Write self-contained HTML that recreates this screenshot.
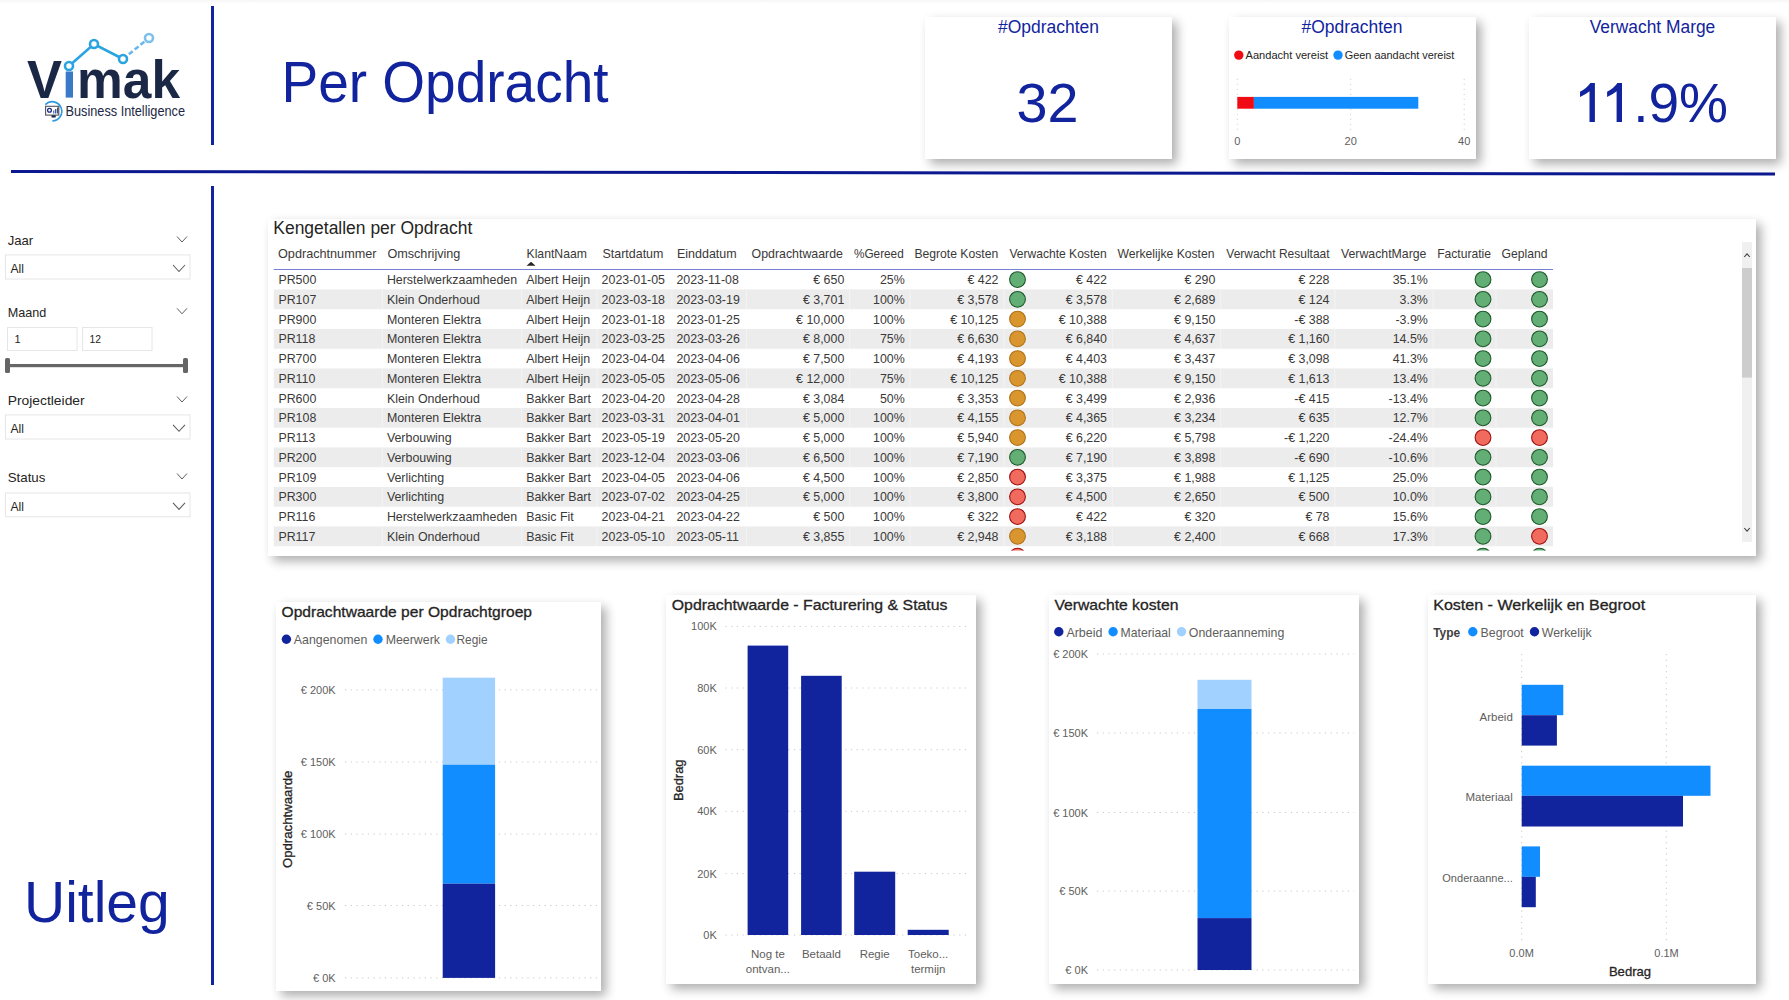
<!DOCTYPE html>
<html><head><meta charset="utf-8"><title>Per Opdracht</title>
<style>
html,body{margin:0;padding:0;background:#fff;}
body{width:1789px;height:1000px;position:relative;overflow:hidden;font-family:"Liberation Sans", sans-serif;}
.card{position:absolute;background:#fff;box-shadow:5px 5px 10px rgba(0,0,0,0.32);}
svg{position:absolute;left:0;top:0;font-family:"Liberation Sans", sans-serif;}
</style></head><body>
<div style="position:absolute;left:0;top:0;width:1789px;height:4px;background:linear-gradient(#f6f6f6,#fff)"></div>
<div class="card" style="left:925px;top:17px;width:247px;height:142px"></div><div class="card" style="left:1229px;top:17px;width:247px;height:142px"></div><div class="card" style="left:1529px;top:17px;width:247px;height:142px"></div><div class="card" style="left:268px;top:219px;width:1488px;height:337px"></div><div class="card" style="left:276px;top:602px;width:325px;height:388.5px"></div><div class="card" style="left:666px;top:595px;width:310px;height:388.5px"></div><div class="card" style="left:1049px;top:595px;width:310px;height:388.5px"></div><div class="card" style="left:1428px;top:595px;width:328px;height:388.5px"></div>
<svg width="1789" height="1000" viewBox="0 0 1789 1000">
<rect x="211" y="6" width="3" height="139" fill="#12239e" />
<rect x="211" y="186" width="3" height="799" fill="#12239e" />
<polygon points="11,170 1775,172.5 1775,175.5 11,173" fill="#0c1890"/>
<text x="281.5" y="102" font-size="57" fill="#12239e" textLength="327" lengthAdjust="spacingAndGlyphs">Per Opdracht</text>
<text x="24" y="922.2" font-size="57.5" fill="#12239e" textLength="145.7" lengthAdjust="spacingAndGlyphs">Uitleg</text>
<text x="27" y="97.6" font-size="53" fill="#1b2845" textLength="35" lengthAdjust="spacingAndGlyphs" font-weight="bold">V</text>
<rect x="65.7" y="71.5" width="7.3" height="26.1" fill="#3a78c8" />
<text x="77" y="97.6" font-size="53" fill="#1b2845" textLength="103" lengthAdjust="spacingAndGlyphs" font-weight="bold">mak</text>
<polyline points="69,66 94,44 123,59" fill="none" stroke="#2aa4e0" stroke-width="2.6"/>
<line x1="123" y1="59" x2="149" y2="38" stroke="#6ab8ec" stroke-width="2.6" stroke-dasharray="5,2.5"/>
<circle cx="69" cy="66" r="4.0" fill="#fff" stroke="#2aa4e0" stroke-width="2.6"/>
<circle cx="94" cy="44" r="4.0" fill="#fff" stroke="#2aa4e0" stroke-width="2.6"/>
<circle cx="123" cy="59" r="4.0" fill="#fff" stroke="#2aa4e0" stroke-width="2.6"/>
<circle cx="149" cy="38" r="4.0" fill="#fff" stroke="#7cc0ee" stroke-width="2.6"/>
<text x="65.5" y="115.5" font-size="14.5" fill="#1b2845" textLength="119.5" lengthAdjust="spacingAndGlyphs">Business Intelligence</text>
<path d="M 45.3 104.6 A 9.6 9.6 0 1 1 52.4 120.9" fill="none" stroke="#2d9be0" stroke-width="1.6"/>
<rect x="45.6" y="106.3" width="13.2" height="8.8" fill="none" stroke="#50545e" stroke-width="1.1"/>
<circle cx="49.5" cy="110.3" r="1.9" fill="none" stroke="#1b2a80" stroke-width="1.3"/>
<rect x="53.2" y="110.5" width="1.1" height="3" fill="#2060c0" />
<rect x="55.2" y="109" width="1.1" height="4.5" fill="#1b2a80" />
<rect x="57.2" y="107.5" width="1.1" height="6" fill="#1b2845" />
<rect x="51.5" y="115.3" width="4.2" height="2.2" fill="#1b2845" />
<text x="1048.5" y="33" font-size="17.5" fill="#12239e" text-anchor="middle" textLength="101" lengthAdjust="spacingAndGlyphs">#Opdrachten</text>
<text x="1047.5" y="122.4" font-size="56" fill="#12239e" text-anchor="middle" textLength="62" lengthAdjust="spacingAndGlyphs">32</text>
<text x="1352" y="33.2" font-size="17.5" fill="#12239e" text-anchor="middle" textLength="101" lengthAdjust="spacingAndGlyphs">#Opdrachten</text>
<text x="1652.5" y="33.2" font-size="17.5" fill="#12239e" text-anchor="middle" textLength="125.6" lengthAdjust="spacingAndGlyphs">Verwacht Marge</text>
<text x="1652" y="122" font-size="56" fill="#12239e" text-anchor="middle" textLength="152" lengthAdjust="spacingAndGlyphs"><tspan fill="transparent">11</tspan>.9%</text>
<path transform="translate(0,0)" d="M 1590.3 83.1 L 1594.9 83.1 L 1594.9 122 L 1589.5 122 L 1589.5 91.2 Q 1585.5 94.6 1580 96.9 L 1580 91.8 Q 1587 88.3 1590.3 83.1 Z" fill="#12239e"/>
<path transform="translate(27.1,0)" d="M 1590.3 83.1 L 1594.9 83.1 L 1594.9 122 L 1589.5 122 L 1589.5 91.2 Q 1585.5 94.6 1580 96.9 L 1580 91.8 Q 1587 88.3 1590.3 83.1 Z" fill="#12239e"/>
<circle cx="1238.8" cy="55.1" r="4.7" fill="#f00a14"/>
<text x="1245.6" y="58.8" font-size="11" fill="#252423" textLength="82.4" lengthAdjust="spacingAndGlyphs">Aandacht vereist</text>
<circle cx="1338" cy="55.1" r="4.7" fill="#118dff"/>
<text x="1344.8" y="58.8" font-size="11" fill="#252423" textLength="109.5" lengthAdjust="spacingAndGlyphs">Geen aandacht vereist</text>
<line x1="1237.3" y1="78.8" x2="1237.3" y2="131.6" stroke="#c8c8c8" stroke-width="1" stroke-dasharray="1,4"/>
<line x1="1350.7" y1="78.8" x2="1350.7" y2="131.6" stroke="#c8c8c8" stroke-width="1" stroke-dasharray="1,4"/>
<line x1="1464.2" y1="78.8" x2="1464.2" y2="131.6" stroke="#c8c8c8" stroke-width="1" stroke-dasharray="1,4"/>
<rect x="1237.3" y="96.9" width="16.6" height="11.8" fill="#f00a14" />
<rect x="1253.9" y="96.9" width="164.4" height="11.8" fill="#118dff" />
<text x="1237.3" y="145" font-size="11" fill="#605e5c" text-anchor="middle">0</text>
<text x="1350.7" y="145" font-size="11" fill="#605e5c" text-anchor="middle">20</text>
<text x="1464.2" y="145" font-size="11" fill="#605e5c" text-anchor="middle">40</text>
<text x="7.7" y="245" font-size="13" fill="#252423" textLength="25.5" lengthAdjust="spacingAndGlyphs">Jaar</text>
<polyline points="177,236.5 182.0,242.0 187,236.5" fill="none" stroke="#605e5c" stroke-width="1"/>
<rect x="5.5" y="254.9" width="184.5" height="24.099999999999994" fill="#fff" stroke="#e6e6e6" stroke-width="1"/>
<text x="10.4" y="273" font-size="13" fill="#252423" textLength="13.5" lengthAdjust="spacingAndGlyphs">All</text>
<polyline points="173,265 179.0,271.5 185,265" fill="none" stroke="#605e5c" stroke-width="1.1"/>
<text x="7.7" y="316.8" font-size="13" fill="#252423" textLength="38.5" lengthAdjust="spacingAndGlyphs">Maand</text>
<polyline points="177,308.3 182.0,313.8 187,308.3" fill="none" stroke="#605e5c" stroke-width="1"/>
<rect x="7.5" y="327.5" width="69.5" height="23" fill="#fff" stroke="#e6e6e6" stroke-width="1"/>
<rect x="82.5" y="327.5" width="69.5" height="23" fill="#fff" stroke="#e6e6e6" stroke-width="1"/>
<text x="14.4" y="343" font-size="11" fill="#252423">1</text>
<text x="89.6" y="343" font-size="11" fill="#252423" textLength="11.5" lengthAdjust="spacingAndGlyphs">12</text>
<rect x="7" y="364" width="179" height="3.2" fill="#666" />
<rect x="5" y="358" width="5" height="15" rx="1.5" fill="#666"/>
<rect x="183" y="358" width="5" height="15" rx="1.5" fill="#666"/>
<text x="7.7" y="405" font-size="13" fill="#252423" textLength="77" lengthAdjust="spacingAndGlyphs">Projectleider</text>
<polyline points="177,396.5 182.0,402.0 187,396.5" fill="none" stroke="#605e5c" stroke-width="1"/>
<rect x="5.5" y="414.9" width="184.5" height="24.100000000000023" fill="#fff" stroke="#e6e6e6" stroke-width="1"/>
<text x="10.4" y="432.8" font-size="13" fill="#252423" textLength="13.5" lengthAdjust="spacingAndGlyphs">All</text>
<polyline points="173,424.8 179.0,431.3 185,424.8" fill="none" stroke="#605e5c" stroke-width="1.1"/>
<text x="7.7" y="482" font-size="13" fill="#252423" textLength="37.7" lengthAdjust="spacingAndGlyphs">Status</text>
<polyline points="177,473.5 182.0,479.0 187,473.5" fill="none" stroke="#605e5c" stroke-width="1"/>
<rect x="5.5" y="493.0" width="184.5" height="23.799999999999955" fill="#fff" stroke="#e6e6e6" stroke-width="1"/>
<text x="10.4" y="510.9" font-size="13" fill="#252423" textLength="13.5" lengthAdjust="spacingAndGlyphs">All</text>
<polyline points="173,502.9 179.0,509.4 185,502.9" fill="none" stroke="#605e5c" stroke-width="1.1"/>
<text x="273.3" y="234" font-size="17.5" fill="#252423" textLength="199" lengthAdjust="spacingAndGlyphs">Kengetallen per Opdracht</text>
<text x="278" y="257.8" font-size="12.4" fill="#3a3938" textLength="98.5" lengthAdjust="spacingAndGlyphs">Opdrachtnummer</text>
<text x="387.4" y="257.8" font-size="12.4" fill="#3a3938" textLength="73" lengthAdjust="spacingAndGlyphs">Omschrijving</text>
<text x="526.5" y="257.8" font-size="12.4" fill="#3a3938" textLength="60.4" lengthAdjust="spacingAndGlyphs">KlantNaam</text>
<text x="602.5" y="257.8" font-size="12.4" fill="#3a3938" textLength="60.9" lengthAdjust="spacingAndGlyphs">Startdatum</text>
<text x="677" y="257.8" font-size="12.4" fill="#3a3938" textLength="59.7" lengthAdjust="spacingAndGlyphs">Einddatum</text>
<text x="751.6" y="257.8" font-size="12.4" fill="#3a3938" textLength="91.3" lengthAdjust="spacingAndGlyphs">Opdrachtwaarde</text>
<text x="854" y="257.8" font-size="12.4" fill="#3a3938" textLength="49.7" lengthAdjust="spacingAndGlyphs">%Gereed</text>
<text x="914.4" y="257.8" font-size="12.4" fill="#3a3938" textLength="83.8" lengthAdjust="spacingAndGlyphs">Begrote Kosten</text>
<text x="1009.4" y="257.8" font-size="12.4" fill="#3a3938" textLength="97.3" lengthAdjust="spacingAndGlyphs">Verwachte Kosten</text>
<text x="1117.4" y="257.8" font-size="12.4" fill="#3a3938" textLength="97.1" lengthAdjust="spacingAndGlyphs">Werkelijke Kosten</text>
<text x="1226.3" y="257.8" font-size="12.4" fill="#3a3938" textLength="103.3" lengthAdjust="spacingAndGlyphs">Verwacht Resultaat</text>
<text x="1341" y="257.8" font-size="12.4" fill="#3a3938" textLength="85.4" lengthAdjust="spacingAndGlyphs">VerwachtMarge</text>
<text x="1437.2" y="257.8" font-size="12.4" fill="#3a3938" textLength="53.8" lengthAdjust="spacingAndGlyphs">Facturatie</text>
<text x="1501.5" y="257.8" font-size="12.4" fill="#3a3938" textLength="46" lengthAdjust="spacingAndGlyphs">Gepland</text>
<polygon points="526.5,265.7 535.5,265.7 531,261.7" fill="#252423"/>
<defs><clipPath id="tb"><rect x="268" y="270" width="1290" height="280.5"/></clipPath></defs>
<g clip-path="url(#tb)">
<rect x="273.8" y="289.45" width="1279.2" height="19.75" fill="#ececec" />
<rect x="381.8" y="289.45" width="1" height="19.75" fill="#f4f4f4" />
<rect x="521.1" y="289.45" width="1" height="19.75" fill="#f4f4f4" />
<rect x="596.5" y="289.45" width="1" height="19.75" fill="#f4f4f4" />
<rect x="671.3" y="289.45" width="1" height="19.75" fill="#f4f4f4" />
<rect x="746.0" y="289.45" width="1" height="19.75" fill="#f4f4f4" />
<rect x="849.1" y="289.45" width="1" height="19.75" fill="#f4f4f4" />
<rect x="909.5" y="289.45" width="1" height="19.75" fill="#f4f4f4" />
<rect x="1003.3" y="289.45" width="1" height="19.75" fill="#f4f4f4" />
<rect x="1111.8" y="289.45" width="1" height="19.75" fill="#f4f4f4" />
<rect x="1220.2" y="289.45" width="1" height="19.75" fill="#f4f4f4" />
<rect x="1334.3" y="289.45" width="1" height="19.75" fill="#f4f4f4" />
<rect x="1432.6" y="289.45" width="1" height="19.75" fill="#f4f4f4" />
<rect x="1495.5" y="289.45" width="1" height="19.75" fill="#f4f4f4" />
<rect x="273.8" y="328.95" width="1279.2" height="19.75" fill="#ececec" />
<rect x="381.8" y="328.95" width="1" height="19.75" fill="#f4f4f4" />
<rect x="521.1" y="328.95" width="1" height="19.75" fill="#f4f4f4" />
<rect x="596.5" y="328.95" width="1" height="19.75" fill="#f4f4f4" />
<rect x="671.3" y="328.95" width="1" height="19.75" fill="#f4f4f4" />
<rect x="746.0" y="328.95" width="1" height="19.75" fill="#f4f4f4" />
<rect x="849.1" y="328.95" width="1" height="19.75" fill="#f4f4f4" />
<rect x="909.5" y="328.95" width="1" height="19.75" fill="#f4f4f4" />
<rect x="1003.3" y="328.95" width="1" height="19.75" fill="#f4f4f4" />
<rect x="1111.8" y="328.95" width="1" height="19.75" fill="#f4f4f4" />
<rect x="1220.2" y="328.95" width="1" height="19.75" fill="#f4f4f4" />
<rect x="1334.3" y="328.95" width="1" height="19.75" fill="#f4f4f4" />
<rect x="1432.6" y="328.95" width="1" height="19.75" fill="#f4f4f4" />
<rect x="1495.5" y="328.95" width="1" height="19.75" fill="#f4f4f4" />
<rect x="273.8" y="368.45" width="1279.2" height="19.75" fill="#ececec" />
<rect x="381.8" y="368.45" width="1" height="19.75" fill="#f4f4f4" />
<rect x="521.1" y="368.45" width="1" height="19.75" fill="#f4f4f4" />
<rect x="596.5" y="368.45" width="1" height="19.75" fill="#f4f4f4" />
<rect x="671.3" y="368.45" width="1" height="19.75" fill="#f4f4f4" />
<rect x="746.0" y="368.45" width="1" height="19.75" fill="#f4f4f4" />
<rect x="849.1" y="368.45" width="1" height="19.75" fill="#f4f4f4" />
<rect x="909.5" y="368.45" width="1" height="19.75" fill="#f4f4f4" />
<rect x="1003.3" y="368.45" width="1" height="19.75" fill="#f4f4f4" />
<rect x="1111.8" y="368.45" width="1" height="19.75" fill="#f4f4f4" />
<rect x="1220.2" y="368.45" width="1" height="19.75" fill="#f4f4f4" />
<rect x="1334.3" y="368.45" width="1" height="19.75" fill="#f4f4f4" />
<rect x="1432.6" y="368.45" width="1" height="19.75" fill="#f4f4f4" />
<rect x="1495.5" y="368.45" width="1" height="19.75" fill="#f4f4f4" />
<rect x="273.8" y="407.95" width="1279.2" height="19.75" fill="#ececec" />
<rect x="381.8" y="407.95" width="1" height="19.75" fill="#f4f4f4" />
<rect x="521.1" y="407.95" width="1" height="19.75" fill="#f4f4f4" />
<rect x="596.5" y="407.95" width="1" height="19.75" fill="#f4f4f4" />
<rect x="671.3" y="407.95" width="1" height="19.75" fill="#f4f4f4" />
<rect x="746.0" y="407.95" width="1" height="19.75" fill="#f4f4f4" />
<rect x="849.1" y="407.95" width="1" height="19.75" fill="#f4f4f4" />
<rect x="909.5" y="407.95" width="1" height="19.75" fill="#f4f4f4" />
<rect x="1003.3" y="407.95" width="1" height="19.75" fill="#f4f4f4" />
<rect x="1111.8" y="407.95" width="1" height="19.75" fill="#f4f4f4" />
<rect x="1220.2" y="407.95" width="1" height="19.75" fill="#f4f4f4" />
<rect x="1334.3" y="407.95" width="1" height="19.75" fill="#f4f4f4" />
<rect x="1432.6" y="407.95" width="1" height="19.75" fill="#f4f4f4" />
<rect x="1495.5" y="407.95" width="1" height="19.75" fill="#f4f4f4" />
<rect x="273.8" y="447.45" width="1279.2" height="19.75" fill="#ececec" />
<rect x="381.8" y="447.45" width="1" height="19.75" fill="#f4f4f4" />
<rect x="521.1" y="447.45" width="1" height="19.75" fill="#f4f4f4" />
<rect x="596.5" y="447.45" width="1" height="19.75" fill="#f4f4f4" />
<rect x="671.3" y="447.45" width="1" height="19.75" fill="#f4f4f4" />
<rect x="746.0" y="447.45" width="1" height="19.75" fill="#f4f4f4" />
<rect x="849.1" y="447.45" width="1" height="19.75" fill="#f4f4f4" />
<rect x="909.5" y="447.45" width="1" height="19.75" fill="#f4f4f4" />
<rect x="1003.3" y="447.45" width="1" height="19.75" fill="#f4f4f4" />
<rect x="1111.8" y="447.45" width="1" height="19.75" fill="#f4f4f4" />
<rect x="1220.2" y="447.45" width="1" height="19.75" fill="#f4f4f4" />
<rect x="1334.3" y="447.45" width="1" height="19.75" fill="#f4f4f4" />
<rect x="1432.6" y="447.45" width="1" height="19.75" fill="#f4f4f4" />
<rect x="1495.5" y="447.45" width="1" height="19.75" fill="#f4f4f4" />
<rect x="273.8" y="486.95" width="1279.2" height="19.75" fill="#ececec" />
<rect x="381.8" y="486.95" width="1" height="19.75" fill="#f4f4f4" />
<rect x="521.1" y="486.95" width="1" height="19.75" fill="#f4f4f4" />
<rect x="596.5" y="486.95" width="1" height="19.75" fill="#f4f4f4" />
<rect x="671.3" y="486.95" width="1" height="19.75" fill="#f4f4f4" />
<rect x="746.0" y="486.95" width="1" height="19.75" fill="#f4f4f4" />
<rect x="849.1" y="486.95" width="1" height="19.75" fill="#f4f4f4" />
<rect x="909.5" y="486.95" width="1" height="19.75" fill="#f4f4f4" />
<rect x="1003.3" y="486.95" width="1" height="19.75" fill="#f4f4f4" />
<rect x="1111.8" y="486.95" width="1" height="19.75" fill="#f4f4f4" />
<rect x="1220.2" y="486.95" width="1" height="19.75" fill="#f4f4f4" />
<rect x="1334.3" y="486.95" width="1" height="19.75" fill="#f4f4f4" />
<rect x="1432.6" y="486.95" width="1" height="19.75" fill="#f4f4f4" />
<rect x="1495.5" y="486.95" width="1" height="19.75" fill="#f4f4f4" />
<rect x="273.8" y="526.45" width="1279.2" height="19.75" fill="#ececec" />
<rect x="381.8" y="526.45" width="1" height="19.75" fill="#f4f4f4" />
<rect x="521.1" y="526.45" width="1" height="19.75" fill="#f4f4f4" />
<rect x="596.5" y="526.45" width="1" height="19.75" fill="#f4f4f4" />
<rect x="671.3" y="526.45" width="1" height="19.75" fill="#f4f4f4" />
<rect x="746.0" y="526.45" width="1" height="19.75" fill="#f4f4f4" />
<rect x="849.1" y="526.45" width="1" height="19.75" fill="#f4f4f4" />
<rect x="909.5" y="526.45" width="1" height="19.75" fill="#f4f4f4" />
<rect x="1003.3" y="526.45" width="1" height="19.75" fill="#f4f4f4" />
<rect x="1111.8" y="526.45" width="1" height="19.75" fill="#f4f4f4" />
<rect x="1220.2" y="526.45" width="1" height="19.75" fill="#f4f4f4" />
<rect x="1334.3" y="526.45" width="1" height="19.75" fill="#f4f4f4" />
<rect x="1432.6" y="526.45" width="1" height="19.75" fill="#f4f4f4" />
<rect x="1495.5" y="526.45" width="1" height="19.75" fill="#f4f4f4" />
<text x="278.40000000000003" y="284.2" font-size="12.4" fill="#3a3938">PR500</text>
<text x="386.90000000000003" y="284.2" font-size="12.4" fill="#3a3938">Herstelwerkzaamheden</text>
<text x="526.2" y="284.2" font-size="12.4" fill="#3a3938">Albert Heijn</text>
<text x="601.6" y="284.2" font-size="12.4" fill="#3a3938">2023-01-05</text>
<text x="676.4" y="284.2" font-size="12.4" fill="#3a3938">2023-11-08</text>
<text x="844.3000000000001" y="284.2" font-size="12.4" fill="#3a3938" text-anchor="end">€ 650</text>
<text x="904.7" y="284.2" font-size="12.4" fill="#3a3938" text-anchor="end">25%</text>
<text x="998.5" y="284.2" font-size="12.4" fill="#3a3938" text-anchor="end">€ 422</text>
<circle cx="1017.5" cy="279.6" r="7.9" fill="#63ae74" stroke="#1f5a2d" stroke-width="1.1"/>
<text x="1107.0" y="284.2" font-size="12.4" fill="#3a3938" text-anchor="end">€ 422</text>
<text x="1215.4" y="284.2" font-size="12.4" fill="#3a3938" text-anchor="end">€ 290</text>
<text x="1329.5" y="284.2" font-size="12.4" fill="#3a3938" text-anchor="end">€ 228</text>
<text x="1427.8" y="284.2" font-size="12.4" fill="#3a3938" text-anchor="end">35.1%</text>
<circle cx="1483" cy="279.6" r="7.9" fill="#63ae74" stroke="#1f5a2d" stroke-width="1.1"/>
<circle cx="1539.5" cy="279.6" r="7.9" fill="#63ae74" stroke="#1f5a2d" stroke-width="1.1"/>
<text x="278.40000000000003" y="303.95" font-size="12.4" fill="#3a3938">PR107</text>
<text x="386.90000000000003" y="303.95" font-size="12.4" fill="#3a3938">Klein Onderhoud</text>
<text x="526.2" y="303.95" font-size="12.4" fill="#3a3938">Albert Heijn</text>
<text x="601.6" y="303.95" font-size="12.4" fill="#3a3938">2023-03-18</text>
<text x="676.4" y="303.95" font-size="12.4" fill="#3a3938">2023-03-19</text>
<text x="844.3000000000001" y="303.95" font-size="12.4" fill="#3a3938" text-anchor="end">€ 3,701</text>
<text x="904.7" y="303.95" font-size="12.4" fill="#3a3938" text-anchor="end">100%</text>
<text x="998.5" y="303.95" font-size="12.4" fill="#3a3938" text-anchor="end">€ 3,578</text>
<circle cx="1017.5" cy="299.35" r="7.9" fill="#63ae74" stroke="#1f5a2d" stroke-width="1.1"/>
<text x="1107.0" y="303.95" font-size="12.4" fill="#3a3938" text-anchor="end">€ 3,578</text>
<text x="1215.4" y="303.95" font-size="12.4" fill="#3a3938" text-anchor="end">€ 2,689</text>
<text x="1329.5" y="303.95" font-size="12.4" fill="#3a3938" text-anchor="end">€ 124</text>
<text x="1427.8" y="303.95" font-size="12.4" fill="#3a3938" text-anchor="end">3.3%</text>
<circle cx="1483" cy="299.35" r="7.9" fill="#63ae74" stroke="#1f5a2d" stroke-width="1.1"/>
<circle cx="1539.5" cy="299.35" r="7.9" fill="#63ae74" stroke="#1f5a2d" stroke-width="1.1"/>
<text x="278.40000000000003" y="323.7" font-size="12.4" fill="#3a3938">PR900</text>
<text x="386.90000000000003" y="323.7" font-size="12.4" fill="#3a3938">Monteren Elektra</text>
<text x="526.2" y="323.7" font-size="12.4" fill="#3a3938">Albert Heijn</text>
<text x="601.6" y="323.7" font-size="12.4" fill="#3a3938">2023-01-18</text>
<text x="676.4" y="323.7" font-size="12.4" fill="#3a3938">2023-01-25</text>
<text x="844.3000000000001" y="323.7" font-size="12.4" fill="#3a3938" text-anchor="end">€ 10,000</text>
<text x="904.7" y="323.7" font-size="12.4" fill="#3a3938" text-anchor="end">100%</text>
<text x="998.5" y="323.7" font-size="12.4" fill="#3a3938" text-anchor="end">€ 10,125</text>
<circle cx="1017.5" cy="319.1" r="7.9" fill="#d9962e" stroke="#b0731a" stroke-width="1.1"/>
<text x="1107.0" y="323.7" font-size="12.4" fill="#3a3938" text-anchor="end">€ 10,388</text>
<text x="1215.4" y="323.7" font-size="12.4" fill="#3a3938" text-anchor="end">€ 9,150</text>
<text x="1329.5" y="323.7" font-size="12.4" fill="#3a3938" text-anchor="end">-€ 388</text>
<text x="1427.8" y="323.7" font-size="12.4" fill="#3a3938" text-anchor="end">-3.9%</text>
<circle cx="1483" cy="319.1" r="7.9" fill="#63ae74" stroke="#1f5a2d" stroke-width="1.1"/>
<circle cx="1539.5" cy="319.1" r="7.9" fill="#63ae74" stroke="#1f5a2d" stroke-width="1.1"/>
<text x="278.40000000000003" y="343.45" font-size="12.4" fill="#3a3938">PR118</text>
<text x="386.90000000000003" y="343.45" font-size="12.4" fill="#3a3938">Monteren Elektra</text>
<text x="526.2" y="343.45" font-size="12.4" fill="#3a3938">Albert Heijn</text>
<text x="601.6" y="343.45" font-size="12.4" fill="#3a3938">2023-03-25</text>
<text x="676.4" y="343.45" font-size="12.4" fill="#3a3938">2023-03-26</text>
<text x="844.3000000000001" y="343.45" font-size="12.4" fill="#3a3938" text-anchor="end">€ 8,000</text>
<text x="904.7" y="343.45" font-size="12.4" fill="#3a3938" text-anchor="end">75%</text>
<text x="998.5" y="343.45" font-size="12.4" fill="#3a3938" text-anchor="end">€ 6,630</text>
<circle cx="1017.5" cy="338.85" r="7.9" fill="#d9962e" stroke="#b0731a" stroke-width="1.1"/>
<text x="1107.0" y="343.45" font-size="12.4" fill="#3a3938" text-anchor="end">€ 6,840</text>
<text x="1215.4" y="343.45" font-size="12.4" fill="#3a3938" text-anchor="end">€ 4,637</text>
<text x="1329.5" y="343.45" font-size="12.4" fill="#3a3938" text-anchor="end">€ 1,160</text>
<text x="1427.8" y="343.45" font-size="12.4" fill="#3a3938" text-anchor="end">14.5%</text>
<circle cx="1483" cy="338.85" r="7.9" fill="#63ae74" stroke="#1f5a2d" stroke-width="1.1"/>
<circle cx="1539.5" cy="338.85" r="7.9" fill="#63ae74" stroke="#1f5a2d" stroke-width="1.1"/>
<text x="278.40000000000003" y="363.2" font-size="12.4" fill="#3a3938">PR700</text>
<text x="386.90000000000003" y="363.2" font-size="12.4" fill="#3a3938">Monteren Elektra</text>
<text x="526.2" y="363.2" font-size="12.4" fill="#3a3938">Albert Heijn</text>
<text x="601.6" y="363.2" font-size="12.4" fill="#3a3938">2023-04-04</text>
<text x="676.4" y="363.2" font-size="12.4" fill="#3a3938">2023-04-06</text>
<text x="844.3000000000001" y="363.2" font-size="12.4" fill="#3a3938" text-anchor="end">€ 7,500</text>
<text x="904.7" y="363.2" font-size="12.4" fill="#3a3938" text-anchor="end">100%</text>
<text x="998.5" y="363.2" font-size="12.4" fill="#3a3938" text-anchor="end">€ 4,193</text>
<circle cx="1017.5" cy="358.6" r="7.9" fill="#d9962e" stroke="#b0731a" stroke-width="1.1"/>
<text x="1107.0" y="363.2" font-size="12.4" fill="#3a3938" text-anchor="end">€ 4,403</text>
<text x="1215.4" y="363.2" font-size="12.4" fill="#3a3938" text-anchor="end">€ 3,437</text>
<text x="1329.5" y="363.2" font-size="12.4" fill="#3a3938" text-anchor="end">€ 3,098</text>
<text x="1427.8" y="363.2" font-size="12.4" fill="#3a3938" text-anchor="end">41.3%</text>
<circle cx="1483" cy="358.6" r="7.9" fill="#63ae74" stroke="#1f5a2d" stroke-width="1.1"/>
<circle cx="1539.5" cy="358.6" r="7.9" fill="#63ae74" stroke="#1f5a2d" stroke-width="1.1"/>
<text x="278.40000000000003" y="382.95" font-size="12.4" fill="#3a3938">PR110</text>
<text x="386.90000000000003" y="382.95" font-size="12.4" fill="#3a3938">Monteren Elektra</text>
<text x="526.2" y="382.95" font-size="12.4" fill="#3a3938">Albert Heijn</text>
<text x="601.6" y="382.95" font-size="12.4" fill="#3a3938">2023-05-05</text>
<text x="676.4" y="382.95" font-size="12.4" fill="#3a3938">2023-05-06</text>
<text x="844.3000000000001" y="382.95" font-size="12.4" fill="#3a3938" text-anchor="end">€ 12,000</text>
<text x="904.7" y="382.95" font-size="12.4" fill="#3a3938" text-anchor="end">75%</text>
<text x="998.5" y="382.95" font-size="12.4" fill="#3a3938" text-anchor="end">€ 10,125</text>
<circle cx="1017.5" cy="378.35" r="7.9" fill="#d9962e" stroke="#b0731a" stroke-width="1.1"/>
<text x="1107.0" y="382.95" font-size="12.4" fill="#3a3938" text-anchor="end">€ 10,388</text>
<text x="1215.4" y="382.95" font-size="12.4" fill="#3a3938" text-anchor="end">€ 9,150</text>
<text x="1329.5" y="382.95" font-size="12.4" fill="#3a3938" text-anchor="end">€ 1,613</text>
<text x="1427.8" y="382.95" font-size="12.4" fill="#3a3938" text-anchor="end">13.4%</text>
<circle cx="1483" cy="378.35" r="7.9" fill="#63ae74" stroke="#1f5a2d" stroke-width="1.1"/>
<circle cx="1539.5" cy="378.35" r="7.9" fill="#63ae74" stroke="#1f5a2d" stroke-width="1.1"/>
<text x="278.40000000000003" y="402.7" font-size="12.4" fill="#3a3938">PR600</text>
<text x="386.90000000000003" y="402.7" font-size="12.4" fill="#3a3938">Klein Onderhoud</text>
<text x="526.2" y="402.7" font-size="12.4" fill="#3a3938">Bakker Bart</text>
<text x="601.6" y="402.7" font-size="12.4" fill="#3a3938">2023-04-20</text>
<text x="676.4" y="402.7" font-size="12.4" fill="#3a3938">2023-04-28</text>
<text x="844.3000000000001" y="402.7" font-size="12.4" fill="#3a3938" text-anchor="end">€ 3,084</text>
<text x="904.7" y="402.7" font-size="12.4" fill="#3a3938" text-anchor="end">50%</text>
<text x="998.5" y="402.7" font-size="12.4" fill="#3a3938" text-anchor="end">€ 3,353</text>
<circle cx="1017.5" cy="398.1" r="7.9" fill="#d9962e" stroke="#b0731a" stroke-width="1.1"/>
<text x="1107.0" y="402.7" font-size="12.4" fill="#3a3938" text-anchor="end">€ 3,499</text>
<text x="1215.4" y="402.7" font-size="12.4" fill="#3a3938" text-anchor="end">€ 2,936</text>
<text x="1329.5" y="402.7" font-size="12.4" fill="#3a3938" text-anchor="end">-€ 415</text>
<text x="1427.8" y="402.7" font-size="12.4" fill="#3a3938" text-anchor="end">-13.4%</text>
<circle cx="1483" cy="398.1" r="7.9" fill="#63ae74" stroke="#1f5a2d" stroke-width="1.1"/>
<circle cx="1539.5" cy="398.1" r="7.9" fill="#63ae74" stroke="#1f5a2d" stroke-width="1.1"/>
<text x="278.40000000000003" y="422.45" font-size="12.4" fill="#3a3938">PR108</text>
<text x="386.90000000000003" y="422.45" font-size="12.4" fill="#3a3938">Monteren Elektra</text>
<text x="526.2" y="422.45" font-size="12.4" fill="#3a3938">Bakker Bart</text>
<text x="601.6" y="422.45" font-size="12.4" fill="#3a3938">2023-03-31</text>
<text x="676.4" y="422.45" font-size="12.4" fill="#3a3938">2023-04-01</text>
<text x="844.3000000000001" y="422.45" font-size="12.4" fill="#3a3938" text-anchor="end">€ 5,000</text>
<text x="904.7" y="422.45" font-size="12.4" fill="#3a3938" text-anchor="end">100%</text>
<text x="998.5" y="422.45" font-size="12.4" fill="#3a3938" text-anchor="end">€ 4,155</text>
<circle cx="1017.5" cy="417.85" r="7.9" fill="#d9962e" stroke="#b0731a" stroke-width="1.1"/>
<text x="1107.0" y="422.45" font-size="12.4" fill="#3a3938" text-anchor="end">€ 4,365</text>
<text x="1215.4" y="422.45" font-size="12.4" fill="#3a3938" text-anchor="end">€ 3,234</text>
<text x="1329.5" y="422.45" font-size="12.4" fill="#3a3938" text-anchor="end">€ 635</text>
<text x="1427.8" y="422.45" font-size="12.4" fill="#3a3938" text-anchor="end">12.7%</text>
<circle cx="1483" cy="417.85" r="7.9" fill="#63ae74" stroke="#1f5a2d" stroke-width="1.1"/>
<circle cx="1539.5" cy="417.85" r="7.9" fill="#63ae74" stroke="#1f5a2d" stroke-width="1.1"/>
<text x="278.40000000000003" y="442.2" font-size="12.4" fill="#3a3938">PR113</text>
<text x="386.90000000000003" y="442.2" font-size="12.4" fill="#3a3938">Verbouwing</text>
<text x="526.2" y="442.2" font-size="12.4" fill="#3a3938">Bakker Bart</text>
<text x="601.6" y="442.2" font-size="12.4" fill="#3a3938">2023-05-19</text>
<text x="676.4" y="442.2" font-size="12.4" fill="#3a3938">2023-05-20</text>
<text x="844.3000000000001" y="442.2" font-size="12.4" fill="#3a3938" text-anchor="end">€ 5,000</text>
<text x="904.7" y="442.2" font-size="12.4" fill="#3a3938" text-anchor="end">100%</text>
<text x="998.5" y="442.2" font-size="12.4" fill="#3a3938" text-anchor="end">€ 5,940</text>
<circle cx="1017.5" cy="437.6" r="7.9" fill="#d9962e" stroke="#b0731a" stroke-width="1.1"/>
<text x="1107.0" y="442.2" font-size="12.4" fill="#3a3938" text-anchor="end">€ 6,220</text>
<text x="1215.4" y="442.2" font-size="12.4" fill="#3a3938" text-anchor="end">€ 5,798</text>
<text x="1329.5" y="442.2" font-size="12.4" fill="#3a3938" text-anchor="end">-€ 1,220</text>
<text x="1427.8" y="442.2" font-size="12.4" fill="#3a3938" text-anchor="end">-24.4%</text>
<circle cx="1483" cy="437.6" r="7.9" fill="#f06a5e" stroke="#a01212" stroke-width="1.1"/>
<circle cx="1539.5" cy="437.6" r="7.9" fill="#f06a5e" stroke="#a01212" stroke-width="1.1"/>
<text x="278.40000000000003" y="461.95" font-size="12.4" fill="#3a3938">PR200</text>
<text x="386.90000000000003" y="461.95" font-size="12.4" fill="#3a3938">Verbouwing</text>
<text x="526.2" y="461.95" font-size="12.4" fill="#3a3938">Bakker Bart</text>
<text x="601.6" y="461.95" font-size="12.4" fill="#3a3938">2023-12-04</text>
<text x="676.4" y="461.95" font-size="12.4" fill="#3a3938">2023-03-06</text>
<text x="844.3000000000001" y="461.95" font-size="12.4" fill="#3a3938" text-anchor="end">€ 6,500</text>
<text x="904.7" y="461.95" font-size="12.4" fill="#3a3938" text-anchor="end">100%</text>
<text x="998.5" y="461.95" font-size="12.4" fill="#3a3938" text-anchor="end">€ 7,190</text>
<circle cx="1017.5" cy="457.35" r="7.9" fill="#63ae74" stroke="#1f5a2d" stroke-width="1.1"/>
<text x="1107.0" y="461.95" font-size="12.4" fill="#3a3938" text-anchor="end">€ 7,190</text>
<text x="1215.4" y="461.95" font-size="12.4" fill="#3a3938" text-anchor="end">€ 3,898</text>
<text x="1329.5" y="461.95" font-size="12.4" fill="#3a3938" text-anchor="end">-€ 690</text>
<text x="1427.8" y="461.95" font-size="12.4" fill="#3a3938" text-anchor="end">-10.6%</text>
<circle cx="1483" cy="457.35" r="7.9" fill="#63ae74" stroke="#1f5a2d" stroke-width="1.1"/>
<circle cx="1539.5" cy="457.35" r="7.9" fill="#63ae74" stroke="#1f5a2d" stroke-width="1.1"/>
<text x="278.40000000000003" y="481.7" font-size="12.4" fill="#3a3938">PR109</text>
<text x="386.90000000000003" y="481.7" font-size="12.4" fill="#3a3938">Verlichting</text>
<text x="526.2" y="481.7" font-size="12.4" fill="#3a3938">Bakker Bart</text>
<text x="601.6" y="481.7" font-size="12.4" fill="#3a3938">2023-04-05</text>
<text x="676.4" y="481.7" font-size="12.4" fill="#3a3938">2023-04-06</text>
<text x="844.3000000000001" y="481.7" font-size="12.4" fill="#3a3938" text-anchor="end">€ 4,500</text>
<text x="904.7" y="481.7" font-size="12.4" fill="#3a3938" text-anchor="end">100%</text>
<text x="998.5" y="481.7" font-size="12.4" fill="#3a3938" text-anchor="end">€ 2,850</text>
<circle cx="1017.5" cy="477.1" r="7.9" fill="#f06a5e" stroke="#a01212" stroke-width="1.1"/>
<text x="1107.0" y="481.7" font-size="12.4" fill="#3a3938" text-anchor="end">€ 3,375</text>
<text x="1215.4" y="481.7" font-size="12.4" fill="#3a3938" text-anchor="end">€ 1,988</text>
<text x="1329.5" y="481.7" font-size="12.4" fill="#3a3938" text-anchor="end">€ 1,125</text>
<text x="1427.8" y="481.7" font-size="12.4" fill="#3a3938" text-anchor="end">25.0%</text>
<circle cx="1483" cy="477.1" r="7.9" fill="#63ae74" stroke="#1f5a2d" stroke-width="1.1"/>
<circle cx="1539.5" cy="477.1" r="7.9" fill="#63ae74" stroke="#1f5a2d" stroke-width="1.1"/>
<text x="278.40000000000003" y="501.45" font-size="12.4" fill="#3a3938">PR300</text>
<text x="386.90000000000003" y="501.45" font-size="12.4" fill="#3a3938">Verlichting</text>
<text x="526.2" y="501.45" font-size="12.4" fill="#3a3938">Bakker Bart</text>
<text x="601.6" y="501.45" font-size="12.4" fill="#3a3938">2023-07-02</text>
<text x="676.4" y="501.45" font-size="12.4" fill="#3a3938">2023-04-25</text>
<text x="844.3000000000001" y="501.45" font-size="12.4" fill="#3a3938" text-anchor="end">€ 5,000</text>
<text x="904.7" y="501.45" font-size="12.4" fill="#3a3938" text-anchor="end">100%</text>
<text x="998.5" y="501.45" font-size="12.4" fill="#3a3938" text-anchor="end">€ 3,800</text>
<circle cx="1017.5" cy="496.85" r="7.9" fill="#f06a5e" stroke="#a01212" stroke-width="1.1"/>
<text x="1107.0" y="501.45" font-size="12.4" fill="#3a3938" text-anchor="end">€ 4,500</text>
<text x="1215.4" y="501.45" font-size="12.4" fill="#3a3938" text-anchor="end">€ 2,650</text>
<text x="1329.5" y="501.45" font-size="12.4" fill="#3a3938" text-anchor="end">€ 500</text>
<text x="1427.8" y="501.45" font-size="12.4" fill="#3a3938" text-anchor="end">10.0%</text>
<circle cx="1483" cy="496.85" r="7.9" fill="#63ae74" stroke="#1f5a2d" stroke-width="1.1"/>
<circle cx="1539.5" cy="496.85" r="7.9" fill="#63ae74" stroke="#1f5a2d" stroke-width="1.1"/>
<text x="278.40000000000003" y="521.2" font-size="12.4" fill="#3a3938">PR116</text>
<text x="386.90000000000003" y="521.2" font-size="12.4" fill="#3a3938">Herstelwerkzaamheden</text>
<text x="526.2" y="521.2" font-size="12.4" fill="#3a3938">Basic Fit</text>
<text x="601.6" y="521.2" font-size="12.4" fill="#3a3938">2023-04-21</text>
<text x="676.4" y="521.2" font-size="12.4" fill="#3a3938">2023-04-22</text>
<text x="844.3000000000001" y="521.2" font-size="12.4" fill="#3a3938" text-anchor="end">€ 500</text>
<text x="904.7" y="521.2" font-size="12.4" fill="#3a3938" text-anchor="end">100%</text>
<text x="998.5" y="521.2" font-size="12.4" fill="#3a3938" text-anchor="end">€ 322</text>
<circle cx="1017.5" cy="516.6" r="7.9" fill="#f06a5e" stroke="#a01212" stroke-width="1.1"/>
<text x="1107.0" y="521.2" font-size="12.4" fill="#3a3938" text-anchor="end">€ 422</text>
<text x="1215.4" y="521.2" font-size="12.4" fill="#3a3938" text-anchor="end">€ 320</text>
<text x="1329.5" y="521.2" font-size="12.4" fill="#3a3938" text-anchor="end">€ 78</text>
<text x="1427.8" y="521.2" font-size="12.4" fill="#3a3938" text-anchor="end">15.6%</text>
<circle cx="1483" cy="516.6" r="7.9" fill="#63ae74" stroke="#1f5a2d" stroke-width="1.1"/>
<circle cx="1539.5" cy="516.6" r="7.9" fill="#63ae74" stroke="#1f5a2d" stroke-width="1.1"/>
<text x="278.40000000000003" y="540.95" font-size="12.4" fill="#3a3938">PR117</text>
<text x="386.90000000000003" y="540.95" font-size="12.4" fill="#3a3938">Klein Onderhoud</text>
<text x="526.2" y="540.95" font-size="12.4" fill="#3a3938">Basic Fit</text>
<text x="601.6" y="540.95" font-size="12.4" fill="#3a3938">2023-05-10</text>
<text x="676.4" y="540.95" font-size="12.4" fill="#3a3938">2023-05-11</text>
<text x="844.3000000000001" y="540.95" font-size="12.4" fill="#3a3938" text-anchor="end">€ 3,855</text>
<text x="904.7" y="540.95" font-size="12.4" fill="#3a3938" text-anchor="end">100%</text>
<text x="998.5" y="540.95" font-size="12.4" fill="#3a3938" text-anchor="end">€ 2,948</text>
<circle cx="1017.5" cy="536.35" r="7.9" fill="#d9962e" stroke="#b0731a" stroke-width="1.1"/>
<text x="1107.0" y="540.95" font-size="12.4" fill="#3a3938" text-anchor="end">€ 3,188</text>
<text x="1215.4" y="540.95" font-size="12.4" fill="#3a3938" text-anchor="end">€ 2,400</text>
<text x="1329.5" y="540.95" font-size="12.4" fill="#3a3938" text-anchor="end">€ 668</text>
<text x="1427.8" y="540.95" font-size="12.4" fill="#3a3938" text-anchor="end">17.3%</text>
<circle cx="1483" cy="536.35" r="7.9" fill="#63ae74" stroke="#1f5a2d" stroke-width="1.1"/>
<circle cx="1539.5" cy="536.35" r="7.9" fill="#f06a5e" stroke="#a01212" stroke-width="1.1"/>
<circle cx="1017.5" cy="556.1" r="7.9" fill="#f06a5e" stroke="#a01212" stroke-width="1.1"/>
<circle cx="1483" cy="556.1" r="7.9" fill="#63ae74" stroke="#1f5a2d" stroke-width="1.1"/>
<circle cx="1539.5" cy="556.1" r="7.9" fill="#63ae74" stroke="#1f5a2d" stroke-width="1.1"/>
</g>
<line x1="273.8" y1="269.5" x2="1553" y2="269.5" stroke="#7681d4" stroke-width="1.2" />
<rect x="1742" y="242" width="10" height="300" fill="#f0f0f0" />
<rect x="1742" y="268" width="10" height="109.6" fill="#cdcdcd" />
<polyline points="1744.3,257 1747.05,253.8 1749.8,257" fill="none" stroke="#444" stroke-width="1.1"/>
<polyline points="1744.3,528 1747.05,531.2 1749.8,528" fill="none" stroke="#444" stroke-width="1.1"/>
<text x="281.5" y="616.7" font-size="15" fill="#252423" textLength="250.5" lengthAdjust="spacingAndGlyphs" stroke="#252423" stroke-width="0.3">Opdrachtwaarde per Opdrachtgroep</text>
<circle cx="286.4" cy="639.3" r="4.7" fill="#12239e"/>
<text x="293.8" y="643.9" font-size="12.2" fill="#605e5c" textLength="73.5" lengthAdjust="spacingAndGlyphs">Aangenomen</text>
<circle cx="378" cy="639.3" r="4.7" fill="#118dff"/>
<text x="385.7" y="643.9" font-size="12.2" fill="#605e5c" textLength="54.3" lengthAdjust="spacingAndGlyphs">Meerwerk</text>
<circle cx="450.5" cy="639.3" r="4.7" fill="#a0d1ff"/>
<text x="456.5" y="643.9" font-size="12.2" fill="#605e5c" textLength="31" lengthAdjust="spacingAndGlyphs">Regie</text>
<line x1="345" y1="689.9" x2="597" y2="689.9" stroke="#c8c8c8" stroke-width="1" stroke-dasharray="1.2,4.5"/>
<text x="335.6" y="693.9" font-size="11" fill="#605e5c" text-anchor="end">€ 200K</text>
<line x1="345" y1="762" x2="597" y2="762" stroke="#c8c8c8" stroke-width="1" stroke-dasharray="1.2,4.5"/>
<text x="335.6" y="766" font-size="11" fill="#605e5c" text-anchor="end">€ 150K</text>
<line x1="345" y1="834.1" x2="597" y2="834.1" stroke="#c8c8c8" stroke-width="1" stroke-dasharray="1.2,4.5"/>
<text x="335.6" y="838.1" font-size="11" fill="#605e5c" text-anchor="end">€ 100K</text>
<line x1="345" y1="905.5" x2="597" y2="905.5" stroke="#c8c8c8" stroke-width="1" stroke-dasharray="1.2,4.5"/>
<text x="335.6" y="909.5" font-size="11" fill="#605e5c" text-anchor="end">€ 50K</text>
<line x1="345" y1="977.9" x2="597" y2="977.9" stroke="#c8c8c8" stroke-width="1" stroke-dasharray="1.2,4.5"/>
<text x="335.6" y="981.9" font-size="11" fill="#605e5c" text-anchor="end">€ 0K</text>
<rect x="442.7" y="677.7" width="52.4" height="87" fill="#a0d1ff" />
<rect x="442.7" y="764.7" width="52.4" height="119" fill="#118dff" />
<rect x="442.7" y="883.7" width="52.4" height="94.2" fill="#12239e" />
<text x="0" y="0" font-size="13" fill="#252423" text-anchor="middle" textLength="97.5" lengthAdjust="spacingAndGlyphs" transform="translate(292,819.3) rotate(-90)" stroke="#252423" stroke-width="0.3">Opdrachtwaarde</text>
<text x="671.8" y="609.8" font-size="15" fill="#252423" textLength="275.7" lengthAdjust="spacingAndGlyphs" stroke="#252423" stroke-width="0.3">Opdrachtwaarde - Facturering &amp; Status</text>
<line x1="725.5" y1="626.4" x2="970" y2="626.4" stroke="#c8c8c8" stroke-width="1" stroke-dasharray="1.2,4.5"/>
<text x="716.8" y="630.4" font-size="11" fill="#605e5c" text-anchor="end">100K</text>
<line x1="725.5" y1="688" x2="970" y2="688" stroke="#c8c8c8" stroke-width="1" stroke-dasharray="1.2,4.5"/>
<text x="716.8" y="692" font-size="11" fill="#605e5c" text-anchor="end">80K</text>
<line x1="725.5" y1="749.7" x2="970" y2="749.7" stroke="#c8c8c8" stroke-width="1" stroke-dasharray="1.2,4.5"/>
<text x="716.8" y="753.7" font-size="11" fill="#605e5c" text-anchor="end">60K</text>
<line x1="725.5" y1="811.3" x2="970" y2="811.3" stroke="#c8c8c8" stroke-width="1" stroke-dasharray="1.2,4.5"/>
<text x="716.8" y="815.3" font-size="11" fill="#605e5c" text-anchor="end">40K</text>
<line x1="725.5" y1="873.6" x2="970" y2="873.6" stroke="#c8c8c8" stroke-width="1" stroke-dasharray="1.2,4.5"/>
<text x="716.8" y="877.6" font-size="11" fill="#605e5c" text-anchor="end">20K</text>
<line x1="725.5" y1="935" x2="970" y2="935" stroke="#c8c8c8" stroke-width="1" stroke-dasharray="1.2,4.5"/>
<text x="716.8" y="939" font-size="11" fill="#605e5c" text-anchor="end">0K</text>
<rect x="747.6" y="645.6" width="40.60000000000002" height="289.4" fill="#12239e" />
<rect x="801.1" y="675.8" width="40.60000000000002" height="259.20000000000005" fill="#12239e" />
<rect x="854.2" y="871.7" width="41.0" height="63.299999999999955" fill="#12239e" />
<rect x="907.7" y="929.8" width="41.0" height="5.2000000000000455" fill="#12239e" />
<text x="767.9" y="958" font-size="11.5" fill="#605e5c" text-anchor="middle">Nog te</text>
<text x="767.9" y="972.8" font-size="11.5" fill="#605e5c" text-anchor="middle">ontvan...</text>
<text x="821.4" y="958" font-size="11.5" fill="#605e5c" text-anchor="middle">Betaald</text>
<text x="874.7" y="958" font-size="11.5" fill="#605e5c" text-anchor="middle">Regie</text>
<text x="928.2" y="958" font-size="11.5" fill="#605e5c" text-anchor="middle">Toeko...</text>
<text x="928.2" y="972.8" font-size="11.5" fill="#605e5c" text-anchor="middle">termijn</text>
<text x="0" y="0" font-size="13" fill="#252423" text-anchor="middle" textLength="41.5" lengthAdjust="spacingAndGlyphs" transform="translate(683,780.3) rotate(-90)" stroke="#252423" stroke-width="0.3">Bedrag</text>
<text x="1054.4" y="609.8" font-size="15" fill="#252423" textLength="124" lengthAdjust="spacingAndGlyphs" stroke="#252423" stroke-width="0.3">Verwachte kosten</text>
<circle cx="1058.8" cy="631.8" r="4.7" fill="#12239e"/>
<text x="1066.4" y="636.6" font-size="12.2" fill="#605e5c" textLength="36" lengthAdjust="spacingAndGlyphs">Arbeid</text>
<circle cx="1113.1" cy="631.8" r="4.7" fill="#118dff"/>
<text x="1120.6" y="636.6" font-size="12.2" fill="#605e5c" textLength="50.2" lengthAdjust="spacingAndGlyphs">Materiaal</text>
<circle cx="1181.5" cy="631.8" r="4.7" fill="#a0d1ff"/>
<text x="1188.8" y="636.6" font-size="12.2" fill="#605e5c" textLength="95.5" lengthAdjust="spacingAndGlyphs">Onderaanneming</text>
<line x1="1097" y1="654" x2="1354" y2="654" stroke="#c8c8c8" stroke-width="1" stroke-dasharray="1.2,4.5"/>
<text x="1088" y="658" font-size="11" fill="#605e5c" text-anchor="end">€ 200K</text>
<line x1="1097" y1="733" x2="1354" y2="733" stroke="#c8c8c8" stroke-width="1" stroke-dasharray="1.2,4.5"/>
<text x="1088" y="737" font-size="11" fill="#605e5c" text-anchor="end">€ 150K</text>
<line x1="1097" y1="812.5" x2="1354" y2="812.5" stroke="#c8c8c8" stroke-width="1" stroke-dasharray="1.2,4.5"/>
<text x="1088" y="816.5" font-size="11" fill="#605e5c" text-anchor="end">€ 100K</text>
<line x1="1097" y1="891.1" x2="1354" y2="891.1" stroke="#c8c8c8" stroke-width="1" stroke-dasharray="1.2,4.5"/>
<text x="1088" y="895.1" font-size="11" fill="#605e5c" text-anchor="end">€ 50K</text>
<line x1="1097" y1="970" x2="1354" y2="970" stroke="#c8c8c8" stroke-width="1" stroke-dasharray="1.2,4.5"/>
<text x="1088" y="974" font-size="11" fill="#605e5c" text-anchor="end">€ 0K</text>
<rect x="1197.5" y="679.8" width="54" height="29.2" fill="#a0d1ff" />
<rect x="1197.5" y="709" width="54" height="209.1" fill="#118dff" />
<rect x="1197.5" y="918.1" width="54" height="51.9" fill="#12239e" />
<text x="1433.2" y="609.8" font-size="15" fill="#252423" textLength="212" lengthAdjust="spacingAndGlyphs" stroke="#252423" stroke-width="0.3">Kosten - Werkelijk en Begroot</text>
<text x="1433.2" y="636.6" font-size="12.2" fill="#404040" textLength="27" lengthAdjust="spacingAndGlyphs" font-weight="bold">Type</text>
<circle cx="1472.8" cy="631.8" r="4.7" fill="#118dff"/>
<text x="1480.6" y="636.6" font-size="12.2" fill="#605e5c" textLength="43.2" lengthAdjust="spacingAndGlyphs">Begroot</text>
<circle cx="1534.5" cy="631.8" r="4.7" fill="#12239e"/>
<text x="1541.8" y="636.6" font-size="12.2" fill="#605e5c" textLength="49.8" lengthAdjust="spacingAndGlyphs">Werkelijk</text>
<line x1="1521.7" y1="654" x2="1521.7" y2="943" stroke="#c8c8c8" stroke-width="1" stroke-dasharray="1.2,4.5"/>
<line x1="1666.3" y1="654" x2="1666.3" y2="943" stroke="#c8c8c8" stroke-width="1" stroke-dasharray="1.2,4.5"/>
<rect x="1521.7" y="684.8" width="41.59999999999991" height="30.40000000000009" fill="#118dff" />
<rect x="1521.7" y="715.2" width="35.200000000000045" height="30.399999999999977" fill="#12239e" />
<rect x="1521.7" y="765.7" width="188.79999999999995" height="30.09999999999991" fill="#118dff" />
<rect x="1521.7" y="795.8" width="161.29999999999995" height="30.700000000000045" fill="#12239e" />
<rect x="1521.7" y="846.4" width="18.299999999999955" height="30.399999999999977" fill="#118dff" />
<rect x="1521.7" y="876.8" width="14.099999999999909" height="30.40000000000009" fill="#12239e" />
<text x="1512.8" y="720.8" font-size="11.5" fill="#605e5c" text-anchor="end">Arbeid</text>
<text x="1512.8" y="800.8" font-size="11.5" fill="#605e5c" text-anchor="end">Materiaal</text>
<text x="1512.8" y="882.4" font-size="11.5" fill="#605e5c" text-anchor="end" textLength="70.5" lengthAdjust="spacingAndGlyphs">Onderaanne...</text>
<text x="1521.6" y="957" font-size="11" fill="#605e5c" text-anchor="middle">0.0M</text>
<text x="1666.5" y="957" font-size="11" fill="#605e5c" text-anchor="middle">0.1M</text>
<text x="1630" y="976" font-size="13.5" fill="#252423" text-anchor="middle" textLength="42.2" lengthAdjust="spacingAndGlyphs" stroke="#252423" stroke-width="0.3">Bedrag</text>
</svg>
</body></html>
